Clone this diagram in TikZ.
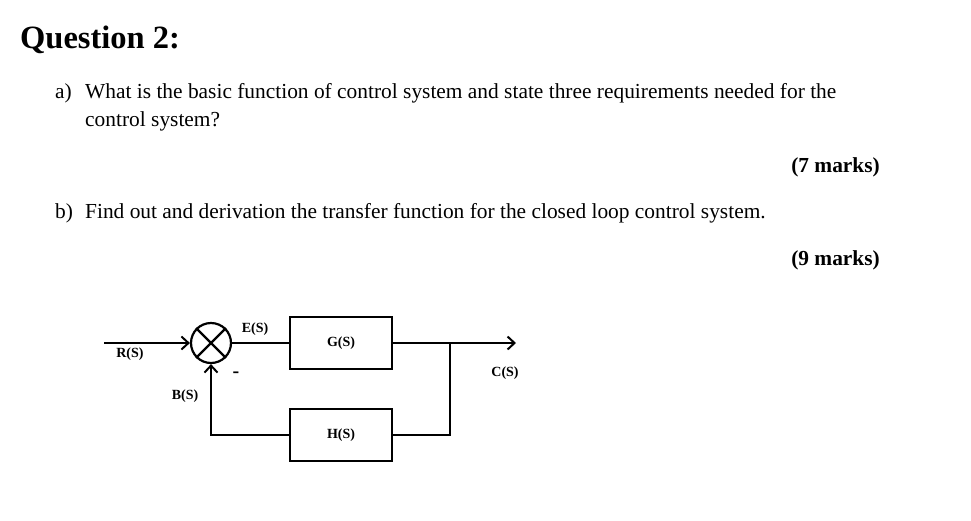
\documentclass[tikz,border=0pt]{standalone}
\usepackage{fontspec}
\setmainfont{Liberation Serif}
\usetikzlibrary{arrows.meta}
\begin{document}
\begin{tikzpicture}[x=1pt,y=-1pt,
  txt/.style={anchor=west,inner sep=0pt,font=\fontsize{21.4}{24}\selectfont},
  lbl/.style={inner sep=0pt,font=\bfseries\fontsize{14}{16}\selectfont},
  blk/.style={draw,line width=2.2pt,minimum width=102pt,minimum height=52pt,inner sep=0pt},
  ln/.style={line width=2.2pt},
  arr/.style={ln,-{Straight Barb[length=7pt,width=13pt,line width=2pt]}}]
\useasboundingbox (0,0) rectangle (971,520);
\node[anchor=west,inner sep=0pt,font=\bfseries\fontsize{32.5}{36}\selectfont] (title) at (20,40) {Question 2:};
\node[txt] (qa) at (55,93) {a)};
\node[txt] (qa1) at (85,93) {What is the basic function of control system and state three requirements needed for the};
\node[txt] (qa2) at (85,121) {control system?};
\node[txt,anchor=east,font=\bfseries\fontsize{21.4}{24}\selectfont] (ma) at (880,167) {(7 marks)};
\node[txt] (qb) at (55,213) {b)};
\node[txt] (qb1) at (85,213) {Find out and derivation the transfer function for the closed loop control system.};
\node[txt,anchor=east,font=\bfseries\fontsize{21.4}{24}\selectfont] (mb) at (880,260) {(9 marks)};
% diagram
\node[draw,circle,line width=2.2pt,minimum size=40pt,inner sep=0pt] (sum) at (211,343) {};
\draw[ln] (sum.north west) -- (sum.south east) (sum.north east) -- (sum.south west);
\node[blk] (G) at (341,343) {};
\node[blk] (H) at (341,435) {};
\node[lbl] at (G) {G(S)};
\node[lbl] at (H) {H(S)};
\coordinate (rin) at (104,343);
\coordinate (br) at (450,343);
\coordinate (bl) at (450,435);
\coordinate (cout) at (516,343);
\coordinate (fl) at (211,435);
\draw[arr] (rin) -- (sum.west);
\draw[ln] (sum.east) -- (G.west);
\draw[arr] (G.east) -- (cout);
\draw[ln] (br) -- (bl) -- (H.east);
\draw[arr] (H.west) -- (fl) -- (sum.south);
\node[lbl] (r) at (130,354) {R(S)};
\node[lbl] (e) at (255,329) {E(S)};
\node[lbl] (c) at (505,373) {C(S)};
\node[lbl] (b) at (185,396) {B(S)};
\node[lbl,font=\bfseries\fontsize{20}{20}\selectfont] (m) at (236,375) {-};
\end{tikzpicture}
\end{document}
